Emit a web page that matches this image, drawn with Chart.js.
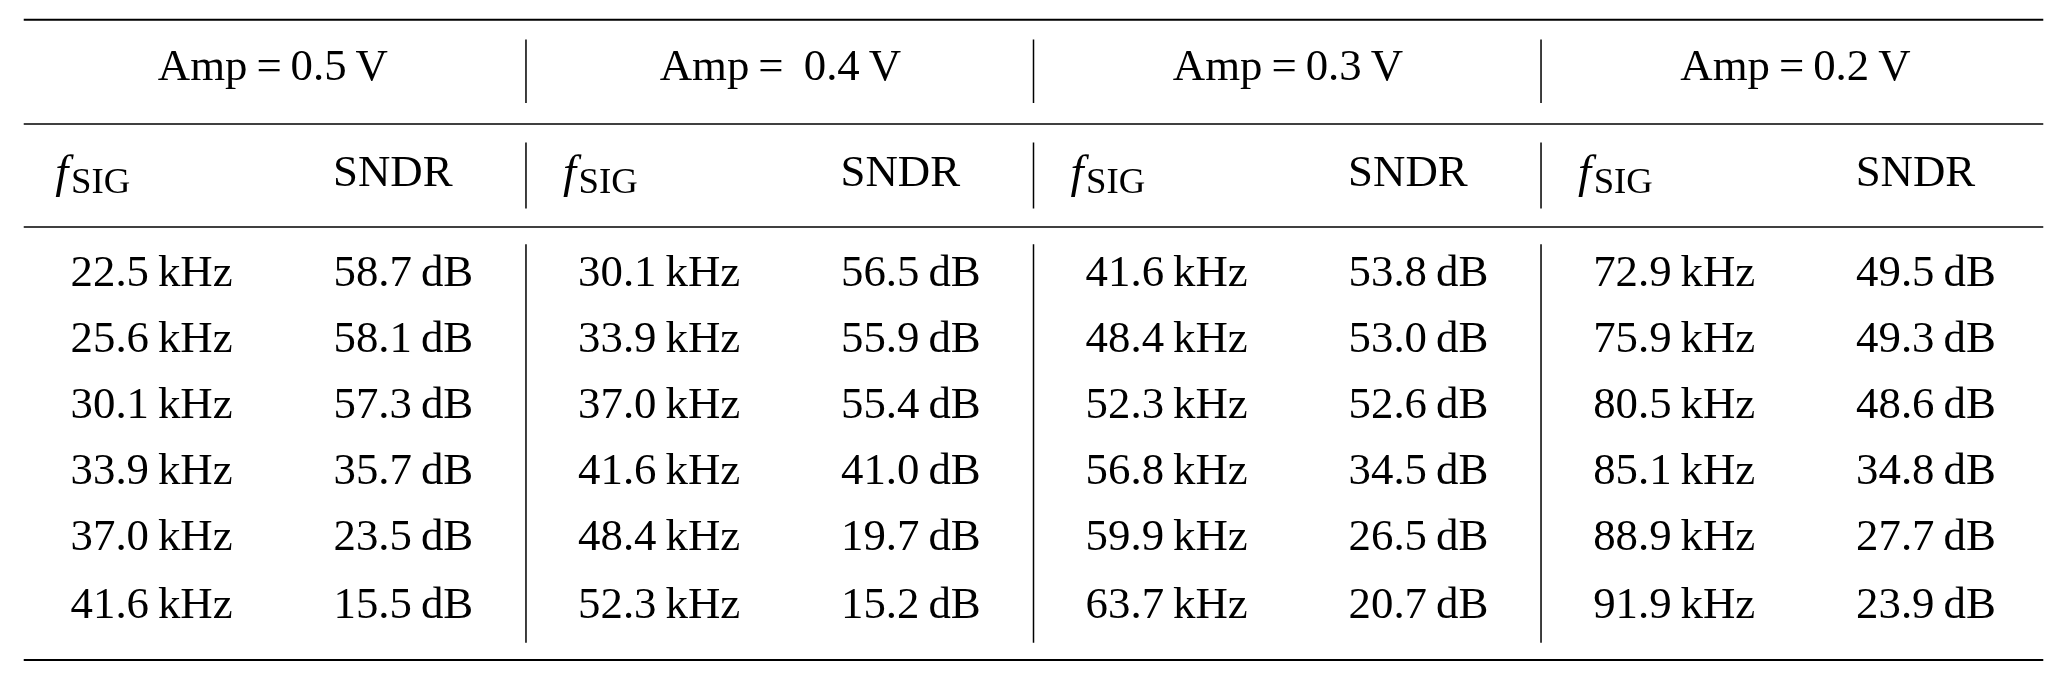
<!DOCTYPE html>
<html>
<head>
<meta charset="utf-8">
<script src="https://cdn.jsdelivr.net/npm/chart.js@4"></script>
<style>
  html, body { margin: 0; padding: 0; background: #fff; }
</style>
</head>
<body>
<canvas id="tbl" width="2067" height="681"></canvas>
<script>
// table data
const amplitudes = ["Amp\u2009=\u20090.5\u2009V", "Amp\u2009=\u2009 0.4\u2009V", "Amp\u2009=\u20090.3\u2009V", "Amp\u2009=\u20090.2\u2009V"];
const freqs = [
    [22.5, 25.6, 30.1, 33.9, 37.0, 41.6],
    [30.1, 33.9, 37.0, 41.6, 48.4, 52.3],
    [41.6, 48.4, 52.3, 56.8, 59.9, 63.7],
    [72.9, 75.9, 80.5, 85.1, 88.9, 91.9]
];
const sndr = [
    [58.7, 58.1, 57.3, 35.7, 23.5, 15.5],
    [56.5, 55.9, 55.4, 41.0, 19.7, 15.2],
    [53.8, 53.0, 52.6, 34.5, 26.5, 20.7],
    [49.5, 49.3, 48.6, 34.8, 27.7, 23.9]
];

// layout in table units (x: 0..1568, y: 0..516)
const groupX = [0, 385, 770, 1155];
const rowY = [208, 258, 308, 358, 408, 459];
const hRules = [15, 94, 172, 500];
const sepX = [399, 784, 1169];
const sepSpans = [[30, 78], [108, 158], [185, 487]];

const datasets = [];
hRules.forEach((y, i) => {
    datasets.push({
        data: [{ x: 18, y: y }, { x: 1550, y: y }],
        showLine: true, borderColor: "#000", borderWidth: (i === 1 || i === 2) ? 1.5 : 2,
        pointRadius: 0
    });
});
sepX.forEach(x => {
    sepSpans.forEach(s => {
        datasets.push({
            data: [{ x: x, y: s[0] }, { x: x, y: s[1] }],
            showLine: true, borderColor: "#000", borderWidth: 1.5, pointRadius: 0
        });
    });
});

// text cells
const cells = [];
amplitudes.forEach((a, g) => {
    cells.push({ x: groupX[g] + 207, y: 52, text: a, align: "center" });
    cells.push({ x: groupX[g] + 42, y: 132, text: "fSIG", align: "left" });
    cells.push({ x: groupX[g] + 298, y: 132, text: "SNDR", align: "center" });
    rowY.forEach((y, r) => {
        cells.push({ x: groupX[g] + 115, y: y, text: freqs[g][r].toFixed(1) + "\u2009kHz", align: "center" });
        cells.push({ x: groupX[g] + 306, y: y, text: sndr[g][r].toFixed(1) + "\u2009dB", align: "center" });
    });
});

const cellText = {
    id: "cellText",
    afterDatasetsDraw(chart) {
        const ctx = chart.ctx;
        const xs = chart.scales.x, ys = chart.scales.y;
        const unit = xs.getPixelForValue(1) - xs.getPixelForValue(0);
        const size = 34 * unit;
        ctx.save();
        ctx.fillStyle = "#000";
        ctx.textBaseline = "middle";
        cells.forEach(c => {
            const px = xs.getPixelForValue(c.x), py = ys.getPixelForValue(c.y);
            if (c.text === "fSIG") {
                ctx.textAlign = "left";
                ctx.font = "italic " + size * 1.05 + "px 'Liberation Serif'";
                ctx.fillText("f", px, py);
                const w = ctx.measureText("f").width;
                ctx.font = size * 0.82 + "px 'Liberation Serif'";
                ctx.fillText("SIG", px + w + 2 * unit, py + 7 * unit);
                return;
            }
            ctx.textAlign = c.align;
            ctx.font = size + "px 'Liberation Serif'";
            ctx.fillText(c.text, px, py);
        });
        ctx.restore();
    }
};

new Chart(document.getElementById("tbl").getContext("2d"), {
    type: "scatter",
    data: { datasets: datasets },
    options: {
        responsive: false,
        animation: false,
        devicePixelRatio: 1,
        layout: { padding: 0 },
        plugins: { legend: { display: false }, tooltip: { enabled: false } },
        scales: {
            x: { type: "linear", min: 0, max: 1568, display: false },
            y: { type: "linear", min: 0, max: 516, reverse: true, display: false }
        }
    },
    plugins: [cellText]
});
</script>
</body>
</html>
